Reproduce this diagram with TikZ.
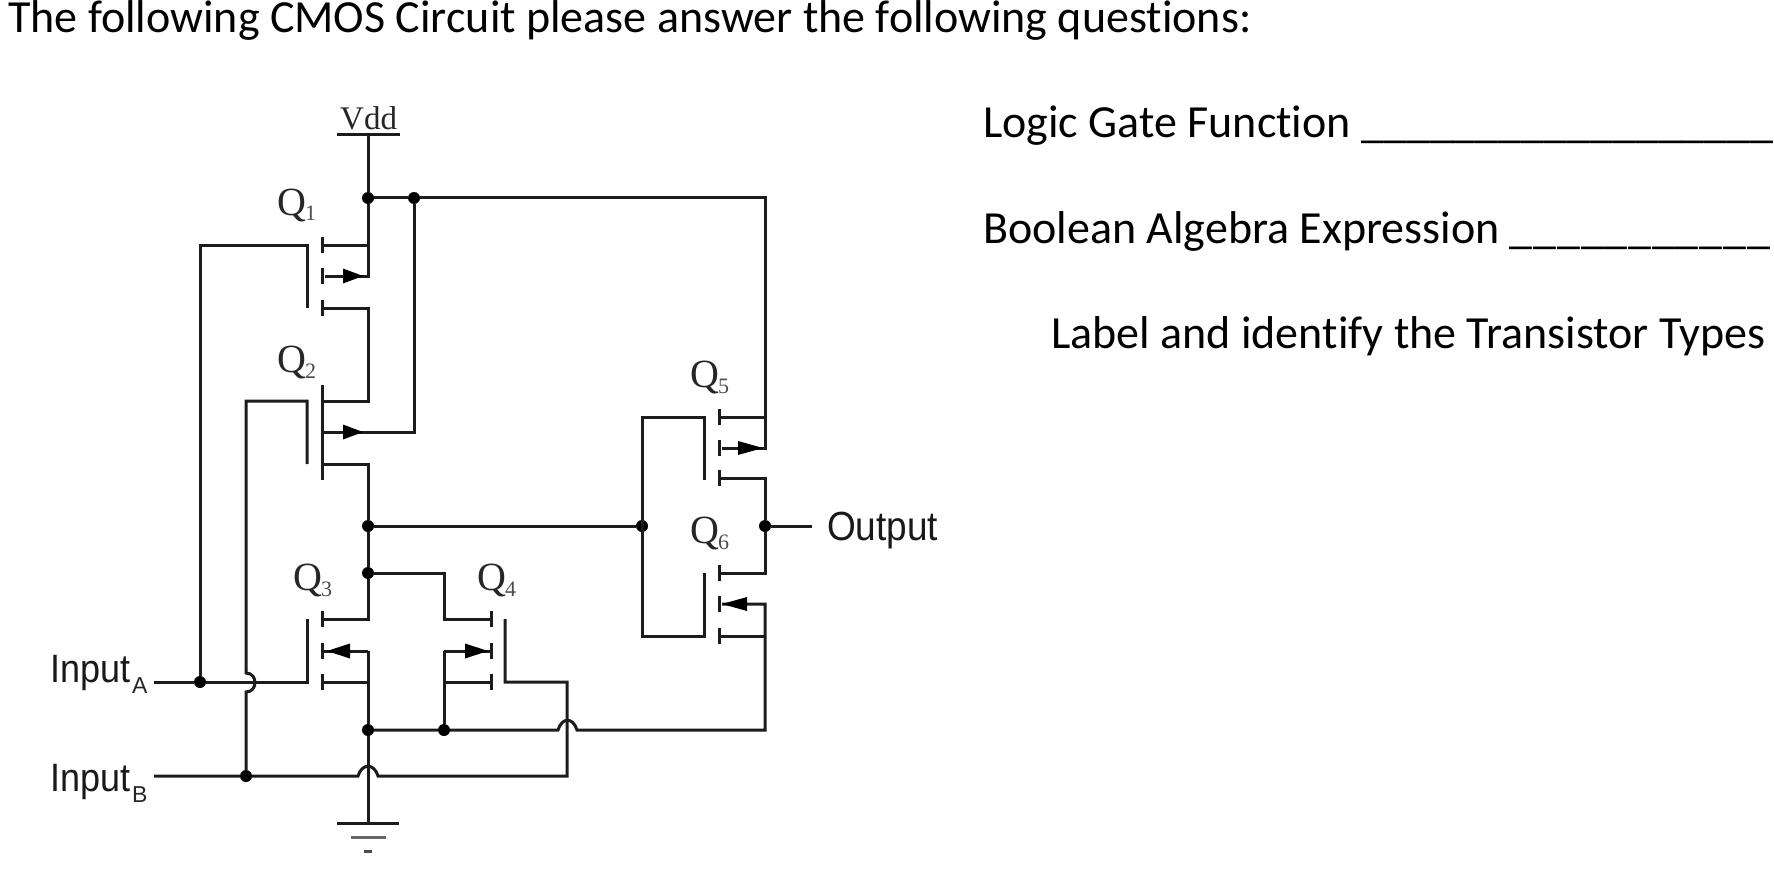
\documentclass[tikz,border=0pt]{standalone}
\usepackage{fontspec}
\setmainfont[Ligatures=NoCommon]{Carlito}
\newfontfamily\serfont{Liberation Serif}
\newfontfamily\arifont{Liberation Sans}
\definecolor{wirec}{HTML}{1c1c1c}
\newcommand{\ubar}{\_\kern0.8pt}
\tikzset{
  wire/.style={draw=wirec,line width=3pt,line join=miter},
  dot/.style={circle,fill=black,inner sep=0pt,minimum size=12pt},
  doc/.style={anchor=base west,inner sep=0pt,font=\fontsize{46}{46}\selectfont,text=black},
  qlabel/.style={anchor=base west,inner sep=0pt,font=\serfont\fontsize{40}{40}\selectfont,text=black!85},
  sublabel/.style={anchor=base west,inner sep=0pt,font=\serfont\fontsize{22}{22}\selectfont,text=black!70},
  inlabel/.style={anchor=base west,inner sep=0pt,font=\arifont\fontsize{36}{36}\selectfont,text=black!90},
  insub/.style={anchor=base west,inner sep=0pt,font=\arifont\fontsize{23}{23}\selectfont,text=black!85},
}
\begin{document}
\begin{tikzpicture}[x=1pt,y=-1pt]
\useasboundingbox (0,0) rectangle (1774,869);
% texts
\node[doc] (title) at (8,33) {The following CMOS Circuit please answer the following questions:};
\node[doc] (t1) at (983,138) {Logic Gate Function \_\_\_\_\_\_\_\_\_\_\_\_\_\_\_\_\_\_};
\node[doc] (t2) at (983,243) {Boolean Algebra Expression \ubar\ubar\ubar\ubar\ubar\ubar\ubar\ubar\ubar\ubar\_};
\node[doc] (t3) at (1051,348) {Label and identify the Transistor Types};
% labels
\node[anchor=base west,inner sep=0pt,font=\serfont\fontsize{33}{33}\selectfont,text=black!85] (vdd) at (340,130) {Vdd};
\foreach \n/\x/\y in {1/277/215,2/277/372,3/293/590,4/477/590,5/690/387,6/690/543}{
  \node[qlabel] (q\n) at (\x,\y) {Q};
  \node[sublabel] (qs\n) at (\x+28,\y+6) {\n};
}
\node[inlabel] (ina) at (50,682) {\scalebox{1}[1.1]{Input}};
\node[insub] (inas) at (132,693) {A};
\node[inlabel] (inb) at (50,791) {\scalebox{1}[1.1]{Input}};
\node[insub] (inbs) at (132,802) {B};
\node[inlabel,font=\arifont\fontsize{37}{37}\selectfont] (outl) at (827,540) {\scalebox{1}[1.1]{Output}};
% junctions
\node[dot] (jtop) at (368,198) {};
\node[dot] (jtop2) at (414,198) {};
\node[dot] (jmid) at (368,526) {};
\node[dot] (jd) at (368,573) {};
\node[dot] (jbot) at (368,730) {};
\node[dot] (jbot2) at (444,730) {};
\node[dot] (jin) at (642,526) {};
\node[dot] (jout) at (765,526) {};
\node[dot] (ja) at (200,682) {};
\node[dot] (jb) at (246,776) {};
% free coordinates
\coordinate (vddt) at (368,135);
\coordinate (gnd) at (368,823);
\coordinate (ainl) at (154,682);
\coordinate (binl) at (154,776);
\coordinate (outr) at (812,526);
% supply rails
\draw[wire] (337,135) -- (400,135);
\draw[wire] (337,823) -- (399,823);
\draw[wire,draw=black!60] (351,837) -- (386,837);
\draw[wire,draw=black!70] (364,851) -- (372,851);
\draw[wire] (vddt) -- (jtop) -- (jtop2) -- (765,198) -- (765,448) -- (722,448);
% Q1
\draw[wire] (jtop) -- (368,276) -- (325,276);
\draw[wire] (368,245) -- (322,245);
\draw[wire] (322,308) -- (368,308) -- (368,401) -- (322,401);
\draw[wire] (322,237) -- (322,253) (322,268) -- (322,284) (322,300) -- (322,316);
\draw[wire] (307,308) -- (307,245) -- (200,245) -- (ja);
% Q2
\draw[wire] (322,385) -- (322,480);
\draw[wire] (jtop2) -- (414,432) -- (322,432);
\draw[wire] (322,464) -- (368,464) -- (jmid) -- (jd) -- (368,619) -- (322,619);
\draw[wire] (307,464) -- (307,401) -- (246,401) -- (246,673) .. controls (258,673) and (258,692) .. (246,692) -- (jb);
% output stage
\draw[wire] (jmid) -- (jin);
\draw[wire] (704,480) -- (704,417) -- (642,417) -- (642,636) -- (704,636) -- (704,573);
\draw[wire] (765,417) -- (719,417);
\draw[wire] (719,478) -- (765,478) -- (jout) -- (765,573) -- (719,573);
\draw[wire] (719,409) -- (719,425) (719,440) -- (719,456) (719,470) -- (719,486);
\draw[wire] (719,565) -- (719,581) (719,596) -- (719,612) (719,628) -- (719,644);
\draw[wire] (jout) -- (outr);
\draw[wire] (765,636) -- (719,636);
\draw[wire] (jbot) -- (jbot2) -- (558,730) .. controls (562,717) and (573,717) .. (577,730) -- (765,730) -- (765,604) -- (722,604);
% Q3
\draw[wire] (322,611) -- (322,627) (322,643) -- (322,659) (322,674) -- (322,690);
\draw[wire] (368,651) -- (324,651);
\draw[wire] (368,651) -- (jbot) -- (gnd);
\draw[wire] (368,682) -- (322,682);
\draw[wire] (ainl) -- (ja) -- (307,682) -- (307,619);
% Q4
\draw[wire] (jd) -- (444,573) -- (444,619) -- (491,619);
\draw[wire] (491,611) -- (491,627) (491,643) -- (491,659) (491,674) -- (491,690);
\draw[wire] (444,651) -- (jbot2);
\draw[wire] (444,651) -- (491,651);
\draw[wire] (444,682) -- (491,682);
\draw[wire] (505,619) -- (505,682) -- (567,682) -- (567,776) -- (378,776) .. controls (374,763) and (362,763) .. (358,776) -- (jb) -- (binl);
% arrow heads
\fill[black] (363,276) -- (343,268.5) -- (343,283.5) -- cycle;
\fill[black] (363,432) -- (343,424.5) -- (343,439.5) -- cycle;
\fill[black] (327,651) -- (350,643.5) -- (350,658.5) -- cycle;
\fill[black] (488,651) -- (465,643.5) -- (465,658.5) -- cycle;
\fill[black] (763,448) -- (738,441) -- (738,455) -- cycle;
\fill[black] (722,604) -- (747,597) -- (747,611) -- cycle;
\end{tikzpicture}
\end{document}
